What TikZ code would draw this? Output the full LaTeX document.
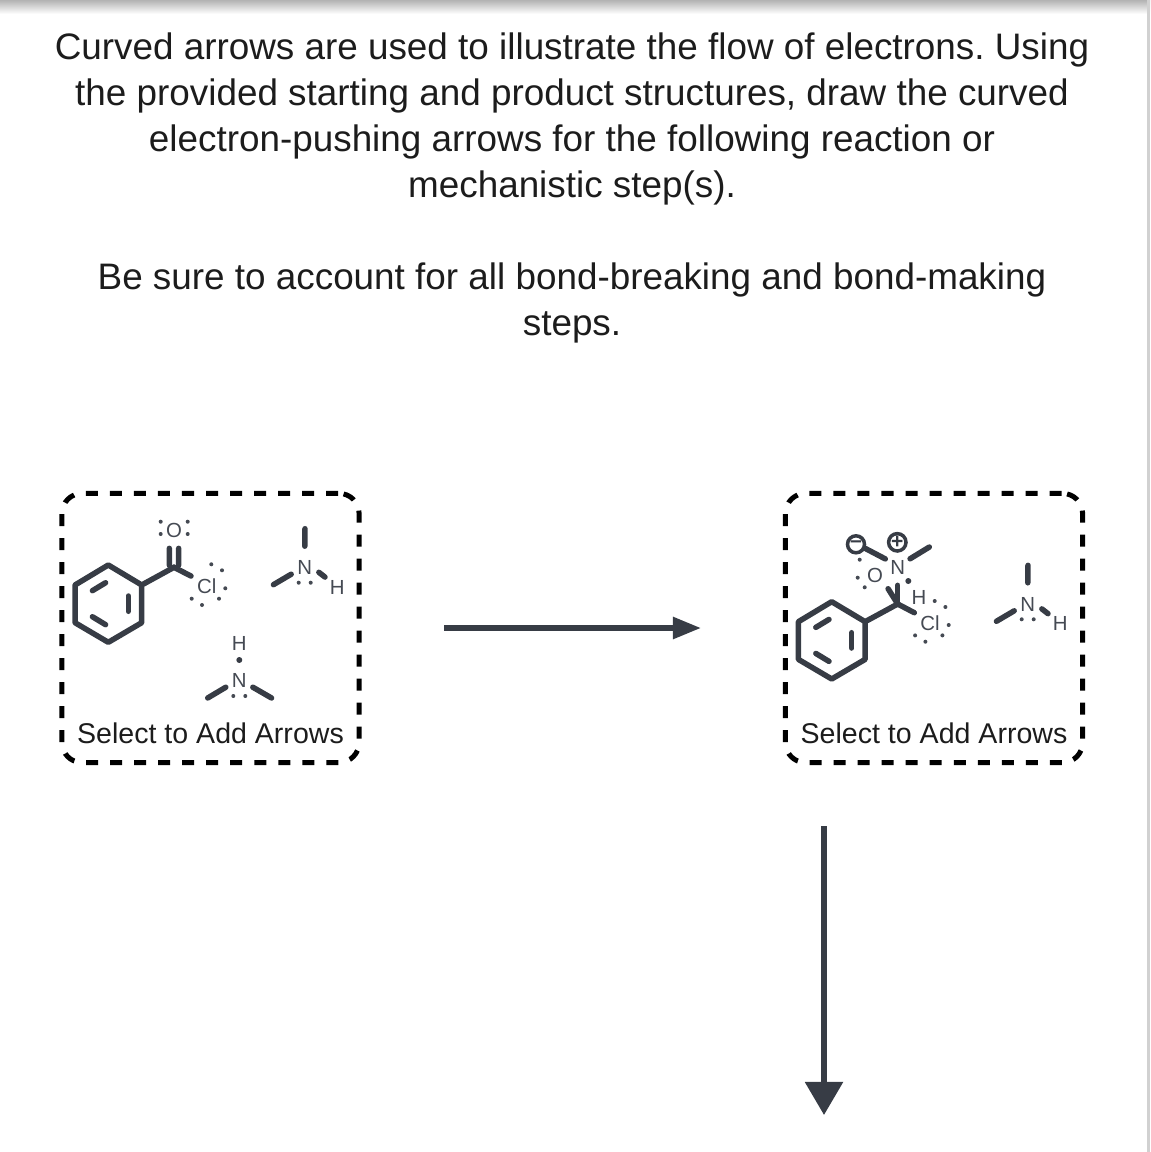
\documentclass[tikz,border=0pt]{standalone}
\usepackage{fontspec}
\setmainfont{Liberation Sans}
\usetikzlibrary{arrows.meta}

\definecolor{inkc}{HTML}{373C45}
\definecolor{atomc}{HTML}{454A53}
\definecolor{textc}{HTML}{1C1C1C}

\tikzset{
  bond/.style={line width=0.055cm, line cap=round, inkc, shorten <=0.02cm, shorten >=0.02cm},
  atom/.style={circle, inner sep=0pt, outer sep=0pt, minimum size=0.26cm, text=atomc, font=\fontsize{5.8}{6}\selectfont},
  bigatom/.style={atom, minimum size=0.34cm},
  selbox/.style={draw=black, line width=0.05cm, rounded corners=0.2cm, minimum width=2.97cm, minimum height=2.69cm, dash pattern=on 0.12cm off 0.12cm, dash phase=0.23cm},
  seltext/.style={text=textc, inner sep=0pt, font=\fontsize{8.12}{9}\selectfont},
  question/.style={text=textc, align=center, inner sep=0pt, font=\fontsize{10.48}{13.09}\selectfont\frenchspacing},
  flowarrow/.style={inkc, line width=0.055cm},
  charge/.style={draw=inkc, circle, line width=0.035cm, inner sep=0pt, minimum size=0.17cm, text=inkc, font=\fontsize{6}{6}\bfseries\selectfont},
}

% #1 prefix, #2 shift
\newcommand{\phring}[2]{
\begin{scope}[shift={#2}]
\coordinate (#1a) at (108.3,565);
\coordinate (#1b) at (141.7,585);
\coordinate (#1c) at (141.7,622.7);
\coordinate (#1d) at (108.3,642.3);
\coordinate (#1e) at (75,622.7);
\coordinate (#1f) at (75,585);
\draw [bond, line join=round] (#1a) -- (#1b) -- (#1c) -- (#1d) -- (#1e) -- (#1f) -- cycle;
\coordinate (#1g) at (90.7,591.7); \coordinate (#1h) at (107.3,581.7);
\coordinate (#1i) at (128.3,594); \coordinate (#1j) at (128.3,613.3);
\coordinate (#1k) at (90.7,615.7); \coordinate (#1l) at (107.3,625.7);
\draw [bond] (#1g) -- (#1h);
\draw [bond] (#1i) -- (#1j);
\draw [bond] (#1k) -- (#1l);
\end{scope}
}

% #1 prefix, #2 shift
\newcommand{\methylamine}[2]{
\begin{scope}[shift={#2}]
\node [atom] (#1n) at (304.7,567.7) {N};
\node [atom, minimum size=0.28cm] (#1h) at (337.3,587.3) {H};
\coordinate (#1u) at (305,526.7);
\coordinate (#1v) at (271.7,585.7);
\draw [bond, shorten <=0.085cm] (#1n.90) -- (#1u);
\draw [bond] (#1n.205) -- (#1v);
\draw [bond] (#1n.-15) -- (#1h.140);
\fill [atomc] (298.7,582.7) circle (0.02cm) (310.7,582.7) circle (0.02cm);
\end{scope}
}

% #1 shift
\newcommand{\clpairs}[1]{
\begin{scope}[shift={#1}]
\fill [atomc] (211.3,564.3) circle (0.02cm) (222,570.3) circle (0.02cm) (225.3,588.3) circle (0.02cm)
  (219,598.7) circle (0.02cm) (202,605) circle (0.02cm) (191.7,598.7) circle (0.02cm);
\end{scope}
}

\begin{document}
\begin{tikzpicture}[x=0.01cm, y=-0.01cm]
\useasboundingbox (0,0) rectangle (1150,1152);

% page edges
\shade [top color=black!30, bottom color=white] (0,0) rectangle (1150,14);
\fill [black!18] (1147,0) rectangle (1150,1152);

\node [question] (intro) at (572,119) {Curved arrows are used to illustrate the flow of electrons. Using\\
the provided starting and product structures, draw the curved\\
electron-pushing arrows for the following reaction or\\
mechanistic step(s).};
\node [question] (note) at (572,303) {Be sure to account for all bond-breaking and bond-making\\
steps.};

%%% starting box
\node [selbox] (boxa) at (210.5,628) {};
\phring{ra}{(0,0)}
\coordinate (ca) at (174,567.3);
\node [bigatom] (oa) at (174,530) {O};
\node [bigatom] (cla) at (206.7,586.7) {Cl};
\draw [bond] (rab) -- (ca) -- (cla.145);
\draw [bond] ([xshift=-0.046cm]ca) -- (oa.-106);
\draw [bond] ([xshift=0.046cm]ca) -- (oa.-74);
\fill [atomc] (160.7,521.7) circle (0.02cm) (160.7,534) circle (0.02cm) (187.7,521.7) circle (0.02cm) (187.7,534) circle (0.02cm);
\clpairs{(0,0)}
\methylamine{ma}{(0,0)}

\node [atom] (nb) at (239.3,680.7) {N};
\node [atom] (hb) at (239.3,643.3) {H};
\coordinate (lb) at (206,699);
\coordinate (rb) at (273.3,699);
\draw [bond] (nb.205) -- (lb);
\draw [bond] (nb.-25) -- (rb);
\fill [inkc] (239.3,660) circle (0.03cm);
\fill [atomc] (233.3,696) circle (0.02cm) (245.3,696) circle (0.02cm);
\node [seltext] (sela) at (210.5,733.5) {Select to Add Arrows};

%%% product box
\node [selbox] (boxb) at (934,628) {};
\phring{rc}{(723.4,36.7)}
\coordinate (cc) at (897.7,604);
\node [bigatom] (clc) at (930,623.4) {Cl};
\node [atom] (hc) at (919,597.3) {H};
\node [atom] (nc) at (897.7,567.3) {N};
\node [bigatom] (oc) at (875,575) {O};
\node [charge] (chgm) at (856,544.3) {\raisebox{0.3pt}{--}};
\node [charge] (chgp) at (897.3,542.3) {+};
\coordinate (mc) at (931,546);
\draw [bond] (rcb) -- (cc) -- (clc.145);
\draw [bond, shorten <=0.05cm] (nc.-90) -- (cc);
\draw [bond] (oc.-45) -- (cc);
\draw [bond, shorten <=0pt] (chgm.-24) -- (nc.145);
\draw [bond] (nc.35) -- (mc);
\fill [inkc] (908.3,581) circle (0.03cm);
\fill [atomc] (859.7,559.7) circle (0.02cm) (857.7,577.7) circle (0.02cm) (864.7,587.3) circle (0.02cm);
\clpairs{(723.4,36.7)}
\methylamine{md}{(723,36.6)}
\node [seltext] (selb) at (934,733.5) {Select to Add Arrows};

%%% reaction arrows
\coordinate (ha) at (444,628);
\coordinate (hb) at (701,628);
\draw [flowarrow, -{Triangle[length=0.28cm, width=0.21cm]}] (ha) -- (hb);
\coordinate (va) at (824,826);
\coordinate (vb) at (824,1115);
\draw [flowarrow, -{Triangle[length=0.33cm, width=0.37cm]}] (va) -- (vb);

\end{tikzpicture}
\end{document}
